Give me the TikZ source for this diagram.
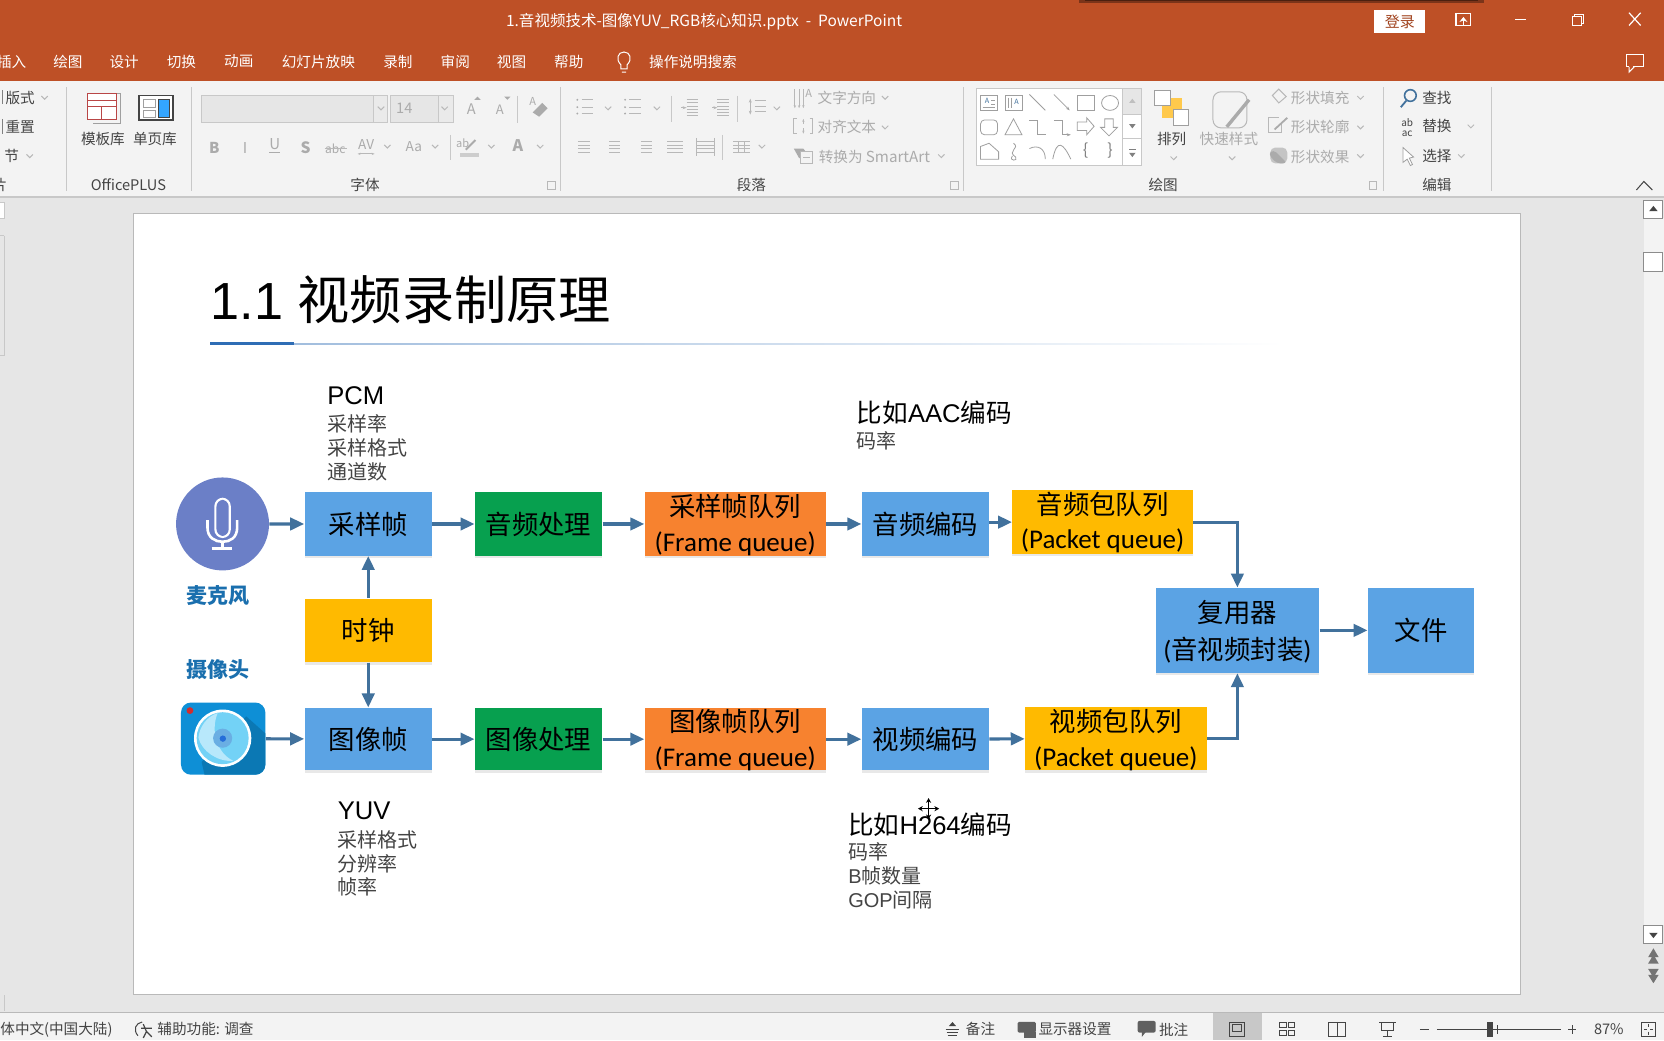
\documentclass[tikz,border=0pt]{standalone}
\usepackage{fontspec}
\setmainfont{Noto Sans CJK SC}
\newfontfamily\ar{Liberation Sans}
\newfontfamily\cb{Carlito}
\usetikzlibrary{arrows.meta,shadows,calc}
\definecolor{bar}{HTML}{BE5026}
\definecolor{rib}{HTML}{F3F3F3}
\definecolor{wk}{HTML}{E6E6E6}
\definecolor{sep}{HTML}{C8C8C8}
\definecolor{dis}{HTML}{ABABAB}
\definecolor{ink}{HTML}{444444}
\definecolor{arrc}{HTML}{41719C}
\definecolor{bblue}{HTML}{5BA3E4}
\definecolor{bgreen}{HTML}{07A04F}
\definecolor{borange}{HTML}{F7822F}
\definecolor{byellow}{HTML}{FFBA00}
\definecolor{lab}{HTML}{1A6FAE}
\definecolor{micc}{HTML}{6B7FC7}
\definecolor{camc}{HTML}{0E8FD6}
\definecolor{camd}{HTML}{0B78B4}
\definecolor{uline}{HTML}{2F6DB5}
\tikzset{
 x=0.5306pt,y=-0.5306pt,
 box/.style={inner sep=0pt,
   drop shadow={opacity=.18,shadow xshift=0pt,shadow yshift=-1.2pt}},
 boxt/.style={inner sep=0pt,align=center,font=\fontsize{13.2}{17.5}\selectfont,text=black},
 arr/.style={draw=arrc,line width=1.55pt,-{Triangle[length=7pt,width=6.2pt]}},
 tabt/.style={text=white,font=\fontsize{7.3}{9}\selectfont,inner sep=0pt},
 act/.style={text=ink,font=\fontsize{7.3}{9}\selectfont,inner sep=0pt},
 off/.style={text=dis,font=\fontsize{7.3}{9}\selectfont,inner sep=0pt},
 big/.style={anchor=west,inner sep=0pt,text=black,font=\ar\fontsize{12.8}{15}\selectfont},
 sm/.style={anchor=west,inner sep=0pt,text=ink,font=\ar\fontsize{10}{12}\selectfont},
 gi/.style={draw=gray!75,line width=.4pt},
 oi/.style={draw=dis!85,line width=.5pt},
 sbtn/.style={draw=gray!90,fill=white,line width=.5pt},
}
\newcommand\zh[1]{{\fontspec{Noto Sans CJK SC}#1}}
% box with a text node above it: name, x1,y1,x2,y2, fill, text shift, text
\newcommand\bx[8]{\node[box,fill=#6,minimum width={(#4-#2)*0.5306pt},minimum height={(#5-#3)*0.5306pt}] (#1) at ({(#2+#4)/2},{(#3+#5)/2}) {};
\node[boxt] (#1t) at ({(#2+#4)/2},{(#3+#5)/2+#7}) {#8};}
\newcommand\chv[2]{\draw[oi] (#1-3,#2-1.5) -- (#1,#2+1.5) -- (#1+3,#2-1.5);}
\newcommand\qu[1]{{\cb\fontsize{13.5}{17.5}\selectfont(#1)}}
\begin{document}
\begin{tikzpicture}
\useasboundingbox (0,0) rectangle (1568,980);
% backgrounds
\fill[wk] (0,0) rectangle (1568,980);
\fill[bar] (0,0) rectangle (1568,76);
\fill[black!35!bar] (1017,0) rectangle (1398,2.5);
\fill[black!60!bar] (1022,0) rectangle (1393,1);
\fill[rib] (0,76) rectangle (1568,185);
\draw[sep,line width=.7pt] (0,185.5) -- (1568,185.5);
\fill[rib] (0,955) rectangle (1568,980);
\draw[gray!55,line width=.7pt] (0,954) -- (1568,954);
% left edge panel
\draw[sep,line width=.5pt,fill=white] (-3,191) rectangle (4,206);
\draw[sep,line width=.5pt] (4,222) -- (4,335) (-2,222) -- (4,222) (-2,335) -- (4,335);
\draw[sep,line width=.5pt] (4,938) -- (4,953);
% title bar
\node[text=white,font=\fontsize{7.75}{9}\selectfont,inner sep=0pt] (apptitle) at (663.5,20) {1.音视频技术-图像YUV\_RGB核心知识.pptx\ \ -\ \ PowerPoint};
\node[fill=white,minimum width=25.5pt,minimum height=11.6pt,inner sep=0pt,text=bar!85!black,font=\fontsize{7.5}{9}\selectfont] (login) at (1319,20.5) {登录};
\draw[white,line width=.6pt] (1372,13) rectangle (1386,24);
\draw[white,line width=.6pt,-{Stealth[length=2.5pt,width=4pt]}] (1379,24) -- (1379,16);
\draw[white,line width=.5pt] (1428,18) -- (1438,18);
\draw[white,line width=.5pt] (1482,16) rectangle (1490,24);
\draw[white,line width=.5pt] (1484,16) -- (1484,14) -- (1492,14) -- (1492,22) -- (1490,22);
\draw[white,line width=.6pt] (1535,12) -- (1546,24) (1546,12) -- (1535,24);
% tabs
\node[tabt] (tab0) at (11,58) {插入};
\node[tabt] (tab1) at (64,58) {绘图};
\node[tabt] (tab2) at (117,58) {设计};
\node[tabt] (tab3) at (171,58) {切换};
\node[tabt] (tab4) at (225,58) {动画};
\node[tabt] (tab5) at (300,58) {幻灯片放映};
\node[tabt] (tab6) at (375,58) {录制};
\node[tabt] (tab7) at (429,58) {审阅};
\node[tabt] (tab8) at (482,58) {视图};
\node[tabt] (tab9) at (536,58) {帮助};
\node[tabt] (tab10) at (653,58) {操作说明搜索};
\draw[white,line width=.5pt] (585,65) -- (585,61) .. controls (580,56) and (582,49) .. (588,49) .. controls (594,49) and (596,56) .. (591,61) -- (591,65) -- cycle (586,68) -- (590,68);
\draw[white,line width=.5pt] (1533,51) rectangle (1549,63);
\fill[bar] (1535,62) rectangle (1539,65);
\draw[white,line width=.5pt] (1535,63) -- (1535,68) -- (1540,63);
% ribbon separators
\foreach \s in {63,180,528,908,1304,1405} \draw[sep,line width=.5pt] (\s,82) -- (\s,180);
% group 1
\node[act] (g1a) at (19,92) {版式};
\chv{42}{92}
\node[act] (g1b) at (19,119) {重置};
\node[act] (g1c) at (11,147) {节};
\chv{28}{147}
\node[act] (g1d) at (0,174) {片};
\draw[gray,line width=.4pt] (2,85) -- (2,98) (2,112) -- (2,126);
% office plus
\draw[gi] (85,88) -- (113,88) -- (113,116) -- (88,116);
\draw[draw=red!45!gray,fill=white,line width=.5pt] (82,88) rectangle (110,113);
\draw[draw=red!45!gray,line width=.5pt] (82,95) -- (110,95) (82,100) -- (110,100) (96,100) -- (96,113);
\node[act] (lib1) at (97,131) {模板库};
\draw[draw=ink,fill=white,line width=.6pt] (131,90) rectangle (163,113);
\draw[gi] (135,94) rectangle (146,101) (135,104) rectangle (146,111);
\fill[blue!20!cyan!70!blue!80!white,draw=ink,line width=.3pt] (149,94) rectangle (160,111);
\node[act] (lib2) at (146,131) {单页库};
\node[act] (glab1) at (121,174) {OfficePLUS};
% font group
\fill[wk,draw=sep,line width=.4pt] (190,90) rectangle (352,115);
\fill[wk!85!white,draw=sep,line width=.4pt] (352,90) rectangle (365,115);
\fill[wk,draw=sep,line width=.4pt] (368,90) rectangle (413,115);
\fill[wk!85!white,draw=sep,line width=.4pt] (413,90) rectangle (427,115);
\chv{359}{102}
\chv{419}{102}
\node[off] (fs) at (381,102) {14};
\node[off] (ga) at (444,103) {A};
\fill[dis] (447,94) -- (453,94) -- (450,91) -- cycle;
\node[off,font=\fontsize{6.5}{8}\selectfont] (sa) at (471,103) {A};
\fill[dis] (475,91) -- (481,91) -- (478,94) -- cycle;
\draw[sep,line width=.4pt] (488,90) -- (488,116);
\node[off,font=\fontsize{5.5}{6}\selectfont] (cl) at (502,96) {A};
\fill[dis] (502,106) -- (511,97) -- (516,102) -- (508,110) -- cycle;
\node[off,font=\bfseries\fontsize{7.5}{9}\selectfont] (fb) at (202,139) {B};
\node[off,font=\itshape\fontsize{7.5}{9}\selectfont] (fi) at (231,139) {I};
\node[off,font=\fontsize{7.5}{9}\selectfont] (fu) at (259,138) {\underline{U}};
\node[off,font=\bfseries\fontsize{7.8}{9}\selectfont] (fs2) at (288,139) {S};
\node[off,font=\fontsize{6}{8}\selectfont] (fabc) at (316,140) {abc};
\draw[oi] (306,140) -- (327,140);
\node[off,font=\fontsize{6.8}{8}\selectfont] (fav) at (345,136) {AV};
\draw[oi,{Stealth[length=1.5pt]}-{Stealth[length=1.5pt]}] (337,145) -- (353,145);
\chv{365}{138}
\node[off,font=\fontsize{6.8}{8}\selectfont] (faa) at (390,138) {Aa};
\chv{410}{138}
\draw[sep,line width=.4pt] (424.5,127) -- (424.5,151);
\node[off,font=\fontsize{5.5}{8}\selectfont] (fab) at (436,135) {ab};
\draw[dis,line width=1pt] (439,141) -- (448,132);
\fill[dis!60] (433,144) rectangle (451,148);
\chv{463}{138}
\node[off,font=\bfseries\fontsize{8}{9}\selectfont] (fA) at (488,137) {A};
\chv{509}{138}
\node[act] (glab2) at (344,174) {字体};
\draw[oi] (516,171) rectangle (523,179);
% paragraph group
\foreach \xx in {544,589} \foreach \yy in {94,101,107} {\fill[dis] (\xx,\yy) circle (1); \draw[oi] (\xx+4,\yy) -- (\xx+15,\yy);}
\chv{573}{102}
\chv{619}{102}
\foreach \xx in {642,671} \foreach \yy in {94,97,100,103,106,109} \draw[oi] (\xx+5,\yy) -- (\xx+16,\yy);
\foreach \xx in {642,671} \draw[oi,-{Stealth[length=2pt]}] (\xx+0,101.5) -- (\xx+5,101.5);
\draw[sep,line width=.4pt] (632.5,90) -- (632.5,115) (695,90) -- (695,115) (681,127) -- (681,151);
\foreach \yy in {95,100,105} \draw[oi] (711,\yy) -- (722,\yy);
\draw[oi,{Stealth[length=2pt]}-{Stealth[length=2pt]}] (707,93) -- (707,108);
\chv{732}{102}
\foreach \xx/\yl/\yr in {544.6/0/3,572/2/2,600/4/0} \foreach \yy in {133,137,140,144} \draw[oi] (\xx+\yl,\yy) -- (\xx+14-\yr,\yy);
\foreach \yy in {133,137,140,144} \draw[oi] (628.6,\yy) -- (644,\yy);
\draw[oi] (656,130) -- (656,147) (673,130) -- (673,147);
\foreach \yy in {133,137,140,144} \draw[oi] (656,\yy) -- (673,\yy);
\foreach \yy in {133,137,140,144} \draw[oi] (691,\yy) -- (707,\yy);
\draw[oi] (696,133) -- (696,144) (702,133) -- (702,144);
\chv{718}{138}
\node[off] (p1) at (798,92) {文字方向};
\chv{834}{92}
\node[off] (p2) at (798,120) {对齐文本};
\chv{834}{120}
\node[off] (p3) at (824,147.5) {转换为 \fontsize{7.6}{9}\selectfont SmartArt};
\chv{887}{147}
\draw[oi,-{Stealth[length=1.5pt]}] (749,84) -- (749,102);
\draw[oi,-{Stealth[length=1.5pt]}] (753,84) -- (753,102);
\draw[oi,-{Stealth[length=1.5pt]}] (757,84) -- (757,102);
\node[off,font=\fontsize{5.5}{6}\selectfont] (pa) at (762,88) {A};
\draw[oi] (751,112) -- (748,112) -- (748,126) -- (751,126) (763,112) -- (766,112) -- (766,126) -- (763,126);
\draw[oi,-{Stealth[length=1.5pt]}] (757,117) -- (757,112);
\draw[oi,-{Stealth[length=1.5pt]}] (757,121) -- (757,126);
\fill[dis] (748,140) -- (757,140) -- (760,144) -- (757,149) -- (753,149) -- cycle;
\draw[oi,fill=rib] (754,143) rectangle (766,154);
\draw[oi] (757,148) -- (763,148);
\node[act] (glab3) at (708,174) {段落};
\draw[oi] (896,171) rectangle (903,179);
% shape gallery
\fill[white,draw=sep,line width=.5pt] (920.5,83) rectangle (1076,156);
\fill[wk,draw=sep,line width=.4pt] (1058,83) rectangle (1076,108);
\draw[sep,line width=.4pt] (1058,108) -- (1058,156) (1058,130.5) -- (1076,130.5);
\draw[gi] (924,90) rectangle (940,104) (947,90) rectangle (963,104);
\draw[gi] (934,95) -- (938,95) (934,98) -- (938,98) (926,101) -- (938,101);
\draw[gi] (950,92) -- (950,102) (953,92) -- (953,102);
\node[text=arrc,font=\fontsize{3.6}{4}\selectfont,inner sep=0pt] (ga1) at (930,95) {A};
\node[text=arrc,font=\fontsize{3.6}{4}\selectfont,inner sep=0pt] (ga2) at (958,96) {A};
\draw[gi] (970,89) -- (985,104);
\draw[gi,-{Stealth[length=2pt]}] (993,89) -- (1008,104);
\draw[gi] (1015,90) rectangle (1031,104);
\draw[gi] (1046,97) ellipse (8 and 7);
\draw[gi,rounded corners=2pt] (924,113) rectangle (940,127);
\draw[gi] (947,127) -- (955,112) -- (963,127) -- cycle;
\draw[gi] (970,113) -- (978,113) -- (978,127) -- (986,127);
\draw[gi,-{Stealth[length=2pt]}] (993,113) -- (1001,113) -- (1001,127) -- (1009,127);
\draw[gi] (1015,115) -- (1024,115) -- (1024,111) -- (1031,119) -- (1024,127) -- (1024,123) -- (1015,123) -- cycle;
\draw[gi] (1041,112) -- (1049,112) -- (1049,120) -- (1053,120) -- (1045,128) -- (1037,120) -- (1041,120) -- cycle;
\draw[gi] (924,150) -- (924,138) -- (932,135) -- (941,143) -- (941,150) -- cycle;
\draw[gi] (955,135) .. controls (962,140) and (948,142) .. (957,148) .. controls (960,152) and (950,152) .. (954,147);
\draw[gi] (970,140) .. controls (978,136) and (985,140) .. (985,150);
\draw[gi] (992,150) .. controls (996,130) and (1002,135) .. (1009,150);
\node[text=gray,font=\fontsize{8}{9}\selectfont,inner sep=0pt] (brl) at (1023,142) {\{};
\node[text=gray,font=\fontsize{8}{9}\selectfont,inner sep=0pt] (brr) at (1046,142) {\}};
\fill[gray] (1064,117) -- (1070,117) -- (1067,121) -- cycle;
\fill[gray] (1064,144) -- (1070,144) -- (1067,148) -- cycle;
\draw[gray,line width=.4pt] (1064,141) -- (1070,141);
\fill[gray!50] (1064,97) -- (1070,97) -- (1067,93) -- cycle;
\fill[orange!60!yellow!70] (1095,92) rectangle (1114,111);
\draw[gi,fill=white] (1087.5,85) rectangle (1102.5,99);
\draw[gi,fill=white] (1105.5,103) rectangle (1120,118);
\node[act] (arr1) at (1104,131) {排列};
\chv{1106}{149}
\draw[oi,fill=rib,rounded corners=4pt] (1143,86.5) rectangle (1175,120.5);
\draw[dis,line width=1.7pt] (1156,119.5) -- (1177,94);
\node[off] (qs) at (1158,131) {快速样式};
\chv{1161}{149}
\node[off] (sf1) at (1244,92.5) {形状填充};
\chv{1282}{92}
\node[off] (sf2) at (1244,120) {形状轮廓};
\chv{1282}{120}
\node[off] (sf3) at (1244,147.5) {形状效果};
\chv{1282}{147}
\draw[oi] (1199,90) -- (1205,84) -- (1212,91) -- (1205,97) -- cycle;
\draw[oi] (1205,111) -- (1195,111) -- (1195,125) -- (1208,125) -- (1208,117);
\draw[dis,line width=.9pt] (1201,122) -- (1213,111);
\fill[dis!70,rounded corners=2.5pt] (1197,139) rectangle (1213,154);
\fill[dis,rounded corners=2pt] (1195,145) -- (1203,154) -- (1213,154) -- (1200,141) -- cycle;
\node[act] (glab4) at (1096,174) {绘图};
\draw[oi] (1290,171) rectangle (1297,179);
% editing
\node[act] (e1) at (1354,92) {查找};
\node[act] (e2) at (1354,119) {替换};
\chv{1386}{119}
\node[act] (e3) at (1354,147) {选择};
\chv{1377}{147}
\draw[draw=arrc,line width=.8pt] (1329,90) circle (5.5);
\draw[draw=arrc,line width=.9pt] (1325,95) -- (1320,101);
\node[text=ink,font=\fontsize{5}{5.2}\selectfont,inner sep=0pt,align=center] (e2i) at (1326,120) {ab\\ac};
\draw[gi,fill=white] (1322,139) -- (1322,153) -- (1326,150) -- (1329,156) -- (1331,155) -- (1328,149) -- (1332,148) -- cycle;
\node[act] (glab5) at (1354,174) {编辑};
\draw[ink,line width=.5pt] (1542,179) -- (1549,171) -- (1557,179);
% slide
\fill[white,draw=gray!55,line width=.7pt] (126,201) rectangle (1433,937);
\node[anchor=west,inner sep=0pt,text=black,font=\ar\fontsize{26.1}{30}\selectfont] (title) at (198,282) {1.1\ \zh{视频录制原理}};
\shade[left color=uline!45!white,right color=white] (277,323.4) rectangle (1210,324.2);
\fill[uline] (198,322.5) rectangle (277,325);
% boxes
\bx{sf}{287}{464}{407}{523.5}{bblue}{0}{采样帧}
\bx{ap}{447.5}{464}{567.5}{523.5}{bgreen}{0}{音频处理}
\bx{fq}{607.5}{464}{778}{523.5}{borange}{1.2}{采样帧队列\\\qu{Frame queue}}
\bx{ae}{812}{464}{932}{523.5}{bblue}{0}{音频编码}
\bx{pq}{954}{462}{1124}{522}{byellow}{0.5}{音频包队列\\[-.6pt]\qu{Packet queue}}
\bx{clk}{287}{564}{407}{624}{byellow}{0}{时钟}
\bx{im}{287}{667}{407}{726}{bblue}{0}{图像帧}
\bx{ip}{447.5}{667}{567.5}{726}{bgreen}{0}{图像处理}
\bx{iq}{607.5}{667}{778}{726}{borange}{1.2}{图像帧队列\\\qu{Frame queue}}
\bx{ve}{812}{667}{932}{726}{bblue}{0}{视频编码}
\bx{vq}{966}{666}{1137}{726}{byellow}{1.2}{视频包队列\\\qu{Packet queue}}
\bx{mux}{1089}{554}{1243}{634}{bblue}{1}{复用器\\[1pt]{\cb(}音视频封装{\cb)}}
\bx{file}{1289}{554}{1389}{634}{bblue}{0}{文件}
% microphone
\node[circle,fill=micc,minimum size={87.6*0.5306pt},inner sep=0pt] (mic) at (209.7,493.7) {};
\fill[white,rounded corners=4.2pt] (202,469) rectangle (217.5,507);
\fill[micc,rounded corners=3.4pt] (204,471) rectangle (215.5,505);
\draw[white,line width=1.3pt] (195.5,490) -- (195.5,497) .. controls (195.5,507) and (203,510.5) .. (209.7,510.5) .. controls (216.5,510.5) and (223.5,507) .. (223.5,497) -- (223.5,490);
\draw[white,line width=1.3pt] (209.7,510.5) -- (209.7,517) (199.5,517) -- (219,517);
% camera
\node[rounded corners=5pt,fill=camc,minimum width={79.5*0.5306pt},minimum height={68*0.5306pt},inner sep=0pt] (cam) at (210.3,696) {};
\begin{scope}
\clip[rounded corners=5pt] (170.5,662) rectangle (250,730);
\fill[camd] (232,675) -- (260,700) -- (260,740) -- (195,740) -- (190,718) -- cycle;
\end{scope}
\fill[white] (209.8,695.6) circle (27);
\fill[cyan!55!white] (209.8,695.6) circle (24.5);
\fill[cyan!28!white] (187,695) .. controls (190,708) and (205,718) .. (220,717) .. controls (205,710) and (198,690) .. (205,672) .. controls (195,675) and (188,685) .. (187,695) -- cycle;
\fill[cyan!70!blue!60!white] (209.8,695.6) circle (9);
\fill[blue!60!cyan!70!gray] (210,696) circle (3);
\fill[red!65!gray] (179,669.6) circle (3.2);
% labels
\node[inner sep=0pt,text=lab,font=\bfseries\fontsize{10.5}{12}\selectfont] (lmic) at (205,561) {麦克风};
\node[inner sep=0pt,text=lab,font=\bfseries\fontsize{10.5}{12}\selectfont] (lcam) at (205,631) {摄像头};
% annotations
\node[big] (a1) at (308,373) {PCM};
\node[sm] (a2) at (308,399) {\zh{采样率}};
\node[sm] (a3) at (308,422) {\zh{采样格式}};
\node[sm] (a4) at (308,445) {\zh{通道数}};
\node[big] (b1) at (807,389) {\zh{比如}AAC\zh{编码}};
\node[sm] (b2) at (807,415) {\zh{码率}};
\node[big] (c1) at (318,764) {YUV};
\node[sm] (c2) at (318,791) {\zh{采样格式}};
\node[sm] (c3) at (318,814) {\zh{分辨率}};
\node[sm] (c4) at (318,836) {\zh{帧率}};
\node[big] (d1) at (799,777) {\zh{比如}H264\zh{编码}};
\node[sm] (d2) at (799,803) {\zh{码率}};
\node[sm] (d3) at (799,825) {B\zh{帧数量}};
\node[sm] (d4) at (799,848) {GOP\zh{间隔}};
% connectors
\draw[arr] (mic) -- (sf);
\draw[arr] (sf) -- (ap);
\draw[arr] (ap) -- (fq);
\draw[arr] (fq) -- (ae);
\draw[arr] (ae.east |- pq) -- (pq);
\draw[arr] (clk) -- (sf);
\draw[arr] (clk) -- (im);
\draw[arr] (cam) -- (im);
\draw[arr] (im) -- (ip);
\draw[arr] (ip) -- (iq);
\draw[arr] (iq) -- (ve);
\draw[arr] (ve) -- (vq);
\draw[arr] (pq.east) -| (mux.north);
\draw[arr] (vq.east) -| (mux.south);
\draw[arr] (mux) -- (file);
% move cursor
\draw[black,line width=.5pt,{Stealth[length=2.4pt,width=2.6pt]}-{Stealth[length=2.4pt,width=2.6pt]}] (875,752) -- (875,772);
\draw[black,line width=.5pt,{Stealth[length=2.4pt,width=2.6pt]}-{Stealth[length=2.4pt,width=2.6pt]}] (865,762) -- (885,762);
% scrollbar
\fill[rib] (1549,205) rectangle (1568,872);
\draw[sbtn] (1549,188.5) rectangle (1567,205.5);
\fill[ink] (1554,199) -- (1562,199) -- (1558,194) -- cycle;
\draw[sbtn] (1549,237.5) rectangle (1567,256);
\draw[sbtn] (1549,872) rectangle (1567,889);
\fill[ink] (1554,879) -- (1562,879) -- (1558,884) -- cycle;
\fill[gray!90!black] (1553,902) -- (1563,902) -- (1558,893.6) -- cycle (1553,908) -- (1563,908) -- (1558,899.6) -- cycle;
\fill[gray!90!black] (1553,913) -- (1563,913) -- (1558,921) -- cycle (1553,918.5) -- (1563,918.5) -- (1558,926.5) -- cycle;
% status bar
\node[act,anchor=west] (st1) at (0,970) {体中文(中国大陆)};
\draw[ink,line width=.5pt] (130,976) .. controls (125,970) and (128,964) .. (134,963);
\draw[ink,line width=.6pt] (133,969) -- (143,969) (135,965) -- (138,972) -- (135,978) (138,972) -- (143,977);
\node[act,anchor=west] (st2) at (148,970) {辅助功能: 调查};
\node[act] (st3) at (924,970) {备注};
\fill[ink] (894,967) -- (901,967) -- (897.5,963) -- cycle;
\draw[ink,line width=.4pt] (891,970) -- (904,970) (892,973) -- (903,973) (893,976) -- (902,976);
\fill[ink!85,rounded corners=.6pt] (959,963) rectangle (976,973);
\fill[ink!85] (965,972) rectangle (976,978);
\node[act] (st4) at (1013,970) {显示器设置};
\fill[ink!85,rounded corners=1pt] (1072,962) rectangle (1089,973);
\fill[ink!85] (1076,972) -- (1080,972) -- (1076,977) -- cycle;
\node[act] (st5) at (1106,970) {批注};
\fill[sep] (1143,955) rectangle (1189,980);
\draw[ink,line width=.4pt] (1158,963) rectangle (1173,977) (1161,965.5) rectangle (1170,972);
\draw[ink,line width=.4pt] (1206,963) rectangle (1212,968) (1214,963) rectangle (1220,968) (1206,971) rectangle (1212,976) (1214,971) rectangle (1220,976);
\draw[ink,line width=.4pt] (1252,963) rectangle (1268,977) (1260,963) -- (1260,977);
\draw[ink,line width=.4pt] (1299.7,963) -- (1315,963) (1302,963) rectangle (1313,971) (1307.5,971) -- (1307.5,977) (1303,977) -- (1312,977);
\draw[ink,line width=.6pt] (1338,970) -- (1347,970);
\draw[ink,line width=.5pt] (1354,970) -- (1471,970);
\fill[ink] (1401,963) rectangle (1407,977);
\draw[ink,line width=.5pt] (1411,966) -- (1411,974);
\draw[ink,line width=.5pt] (1477.6,970) -- (1485,970) (1481.3,966) -- (1481.3,974);
\node[act] (st6) at (1516,970) {87\%};
\draw[ink,line width=.4pt] (1547,963) rectangle (1560,977);
\draw[ink,line width=.4pt] (1553.5,965) -- (1553.5,968) (1553.5,972) -- (1553.5,975) (1549,970) -- (1552,970) (1555,970) -- (1558,970);
\end{tikzpicture}
\end{document}
